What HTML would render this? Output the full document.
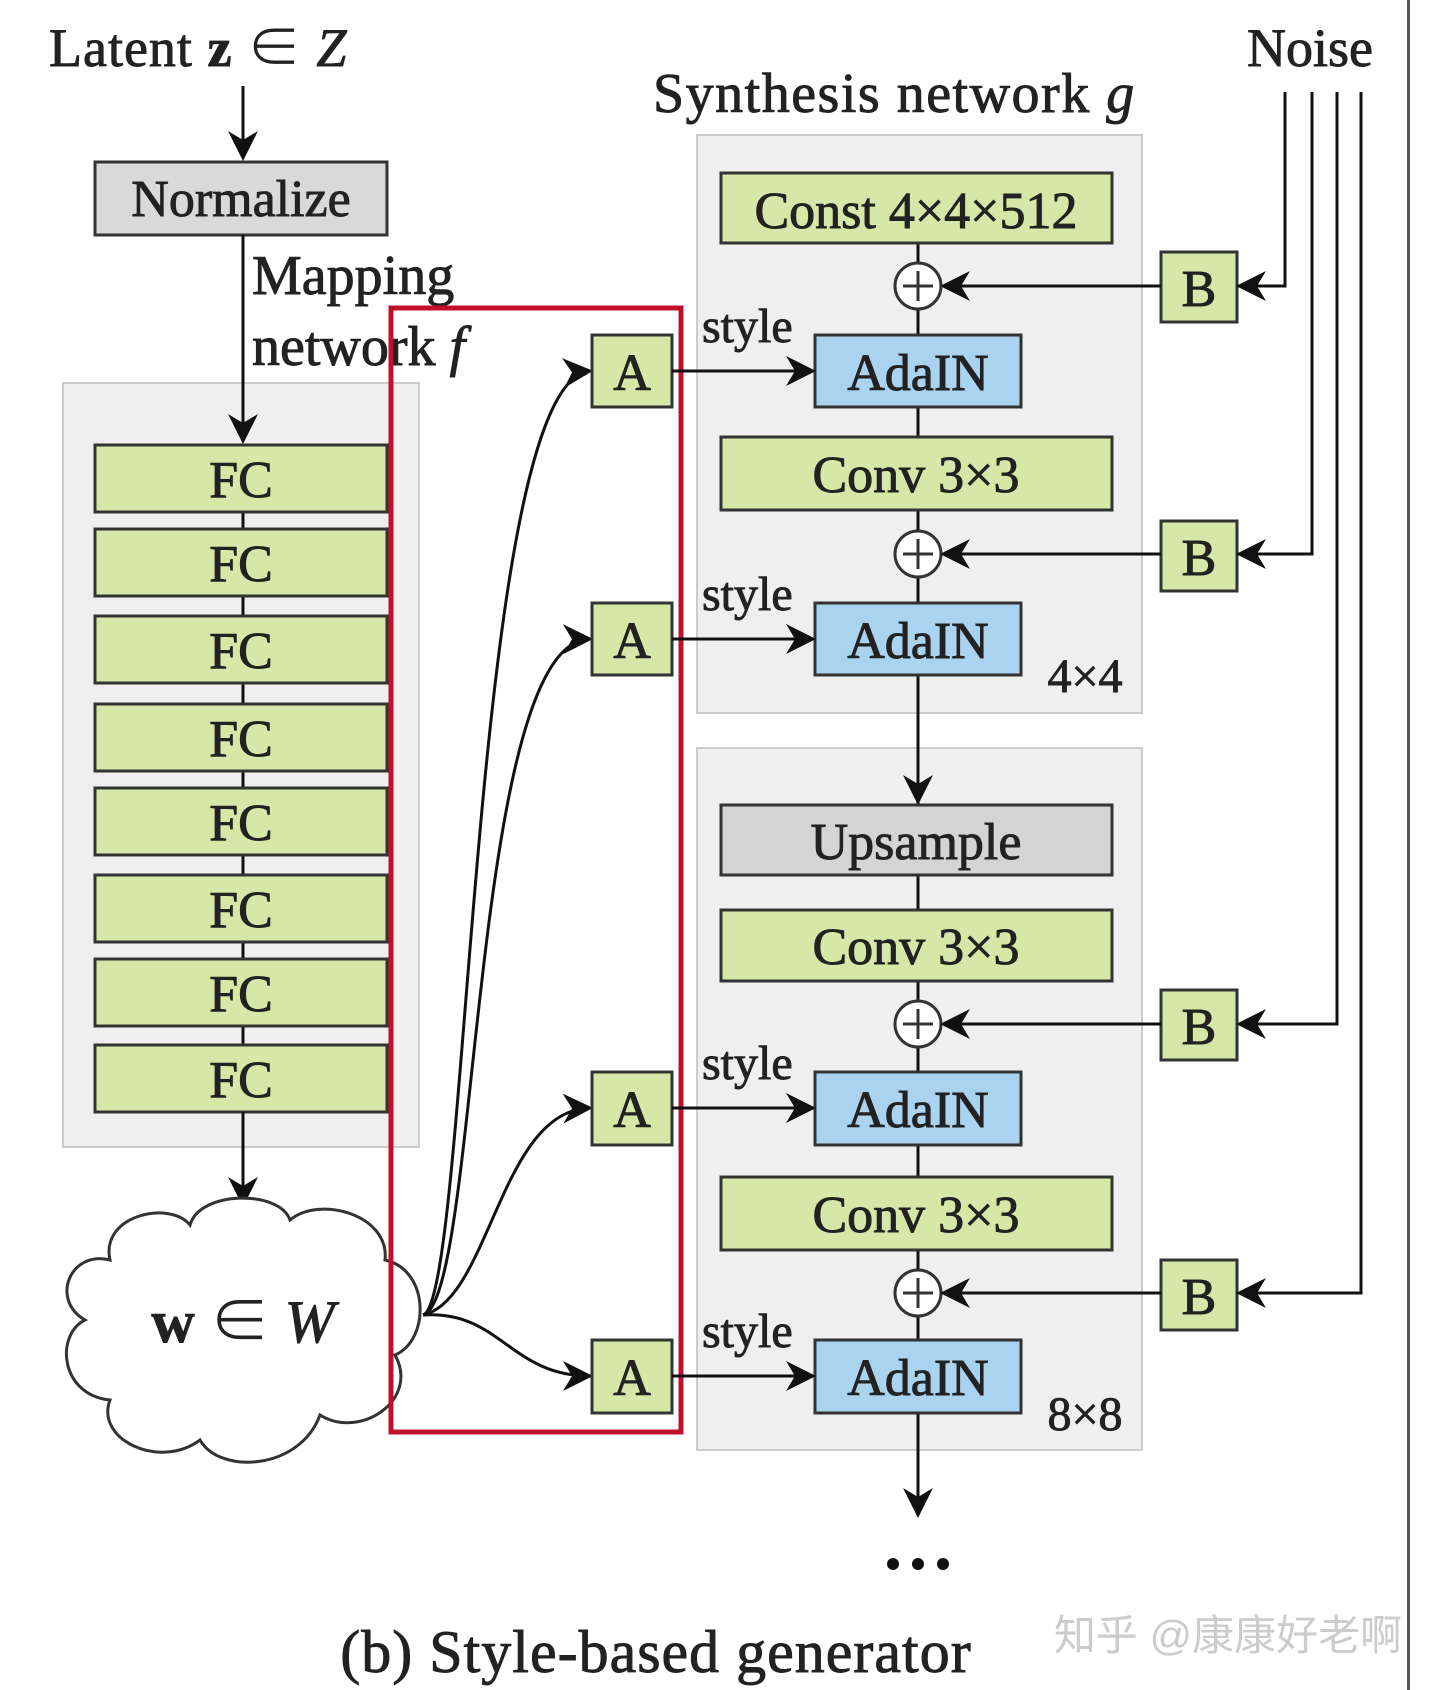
<!DOCTYPE html>
<html><head><meta charset="utf-8"><style>
html,body{margin:0;padding:0;background:#fff;}
svg{display:block;}
text{font-family:"Liberation Serif","Noto Serif CJK SC",serif;fill:#222;stroke:#222;stroke-width:0.9;}
</style></head><body>
<svg width="1440" height="1690" viewBox="0 0 1440 1690" xmlns="http://www.w3.org/2000/svg">
<defs>
<marker id="ab" viewBox="0 0 10 10" refX="9" refY="5" markerWidth="30" markerHeight="30" orient="auto" markerUnits="userSpaceOnUse">
<path d="M0,0 L10,5 L0,10 L3,5 z" fill="#111"/></marker>
</defs>
<rect x="1407" y="0" width="3" height="1690" fill="#555"/>
<!-- top labels -->
<text x="49" y="66" font-size="54" letter-spacing="1">Latent  <tspan font-weight="bold">z</tspan> ∈ <tspan font-style="italic">Z</tspan></text>
<text x="653" y="112" font-size="56" letter-spacing="1.5">Synthesis network <tspan font-style="italic">g</tspan></text>
<text x="1247" y="66" font-size="54">Noise</text>
<!-- mapping -->
<line x1="243" y1="86" x2="243" y2="158" stroke="#111" stroke-width="3" marker-end="url(#ab)"/>
<rect x="95" y="162" width="292" height="73" fill="#d9d9d9" stroke="#333" stroke-width="3"/>
<text x="241" y="216" font-size="52" text-anchor="middle">Normalize</text>
<rect x="63" y="383" width="356" height="764" fill="#efefef" stroke="#ccc" stroke-width="2"/>
<line x1="243" y1="235" x2="243" y2="441" stroke="#111" stroke-width="3" marker-end="url(#ab)"/>
<text x="252" y="294" font-size="56">Mapping</text>
<text x="252" y="365" font-size="56">network <tspan font-style="italic">f</tspan></text>
<line x1="243" y1="445" x2="243" y2="1112" stroke="#111" stroke-width="3"/>
<g fill="#d6e8a8" stroke="#333" stroke-width="3">
<rect x="95" y="445" width="292" height="67"/><rect x="95" y="529" width="292" height="67"/>
<rect x="95" y="616" width="292" height="67"/><rect x="95" y="704" width="292" height="67"/>
<rect x="95" y="788" width="292" height="67"/><rect x="95" y="875" width="292" height="67"/>
<rect x="95" y="959" width="292" height="67"/><rect x="95" y="1045" width="292" height="67"/>
</g>
<g font-size="52" text-anchor="middle">
<text x="241" y="497">FC</text><text x="241" y="581">FC</text><text x="241" y="668">FC</text><text x="241" y="756">FC</text>
<text x="241" y="840">FC</text><text x="241" y="927">FC</text><text x="241" y="1011">FC</text><text x="241" y="1097">FC</text>
</g>
<line x1="243" y1="1112" x2="243" y2="1204" stroke="#111" stroke-width="3" marker-end="url(#ab)"/>
<!-- cloud -->
<path d="M110,1260 C100,1215 170,1200 190,1225 C200,1190 280,1190 290,1220 C320,1195 390,1215 385,1260 C430,1270 430,1340 395,1355 C420,1400 360,1440 320,1415 C300,1470 220,1475 200,1440 C160,1470 95,1440 110,1400 C60,1395 55,1335 85,1320 C50,1300 70,1250 110,1260 z" fill="#fff" stroke="#333" stroke-width="3"/>
<text x="243" y="1342" font-size="60" text-anchor="middle"><tspan font-weight="bold">w</tspan> ∈ <tspan font-style="italic">W</tspan></text>
<!-- curves -->
<g fill="none" stroke="#111" stroke-width="3">
<path d="M423,1315 C470,1300 470,380 590,371" marker-end="url(#ab)"/>
<path d="M423,1315 C480,1300 470,640 590,639" marker-end="url(#ab)"/>
<path d="M423,1315 C490,1300 500,1110 590,1108" marker-end="url(#ab)"/>
<path d="M423,1315 C500,1310 510,1376 590,1376" marker-end="url(#ab)"/>
</g>
<rect x="391" y="308" width="290" height="1124" fill="none" stroke="#c0102a" stroke-width="5"/>
<!-- synthesis panels -->
<rect x="697" y="135" width="445" height="578" fill="#efefef" stroke="#ccc" stroke-width="2"/>
<rect x="697" y="748" width="445" height="702" fill="#efefef" stroke="#ccc" stroke-width="2"/>
<line x1="918" y1="243" x2="918" y2="1413" stroke="#111" stroke-width="3"/>
<line x1="918" y1="675" x2="918" y2="802" stroke="#111" stroke-width="3" marker-end="url(#ab)"/>
<line x1="918" y1="1413" x2="918" y2="1515" stroke="#111" stroke-width="3" marker-end="url(#ab)"/>
<rect x="721" y="173" width="391" height="70" fill="#d6e8a8" stroke="#333" stroke-width="3"/>
<text x="916" y="228" font-size="52" text-anchor="middle">Const 4×4×512</text>
<rect x="721" y="437" width="391" height="73" fill="#d6e8a8" stroke="#333" stroke-width="3"/>
<text x="916" y="492" font-size="52" text-anchor="middle">Conv 3×3</text>
<rect x="721" y="805" width="391" height="70" fill="#d4d4d4" stroke="#333" stroke-width="3"/>
<text x="916" y="859" font-size="52" text-anchor="middle">Upsample</text>
<rect x="721" y="910" width="391" height="71" fill="#d6e8a8" stroke="#333" stroke-width="3"/>
<text x="916" y="964" font-size="52" text-anchor="middle">Conv 3×3</text>
<rect x="721" y="1177" width="391" height="73" fill="#d6e8a8" stroke="#333" stroke-width="3"/>
<text x="916" y="1232" font-size="52" text-anchor="middle">Conv 3×3</text>
<g fill="#a9d3ef" stroke="#333" stroke-width="3">
<rect x="815" y="335" width="206" height="72"/><rect x="815" y="603" width="206" height="72"/>
<rect x="815" y="1072" width="206" height="73"/><rect x="815" y="1340" width="206" height="73"/>
</g>
<g font-size="52" text-anchor="middle">
<text x="918" y="390">AdaIN</text><text x="918" y="658">AdaIN</text><text x="918" y="1127">AdaIN</text><text x="918" y="1395">AdaIN</text>
</g>
<text x="1085" y="692" font-size="48" text-anchor="middle">4×4</text>
<text x="1085" y="1430" font-size="48" text-anchor="middle">8×8</text>
<!-- A boxes -->
<g fill="#d6e8a8" stroke="#333" stroke-width="3">
<rect x="592" y="335" width="80" height="72"/><rect x="592" y="603" width="80" height="72"/>
<rect x="592" y="1072" width="80" height="73"/><rect x="592" y="1340" width="80" height="73"/>
</g>
<g font-size="52" text-anchor="middle">
<text x="632" y="390">A</text><text x="632" y="658">A</text><text x="632" y="1127">A</text><text x="632" y="1395">A</text>
</g>
<g stroke="#111" stroke-width="3">
<line x1="672" y1="371" x2="813" y2="371" marker-end="url(#ab)"/>
<line x1="672" y1="639" x2="813" y2="639" marker-end="url(#ab)"/>
<line x1="672" y1="1108" x2="813" y2="1108" marker-end="url(#ab)"/>
<line x1="672" y1="1376" x2="813" y2="1376" marker-end="url(#ab)"/>
</g>
<g font-size="48">
<text x="702" y="342">style</text><text x="702" y="610">style</text><text x="702" y="1079">style</text><text x="702" y="1347">style</text>
</g>
<!-- plus circles -->
<g fill="#fff" stroke="#333" stroke-width="3">
<circle cx="918" cy="286" r="23"/><circle cx="918" cy="554" r="23"/><circle cx="918" cy="1024" r="23"/><circle cx="918" cy="1293" r="23"/>
</g>
<g stroke="#333" stroke-width="3">
<path d="M903,286h30M918,271v30"/><path d="M903,554h30M918,539v30"/><path d="M903,1024h30M918,1009v30"/><path d="M903,1293h30M918,1278v30"/>
</g>
<!-- B boxes -->
<g fill="#d6e8a8" stroke="#333" stroke-width="3">
<rect x="1161" y="252" width="76" height="70"/><rect x="1161" y="521" width="76" height="70"/>
<rect x="1161" y="990" width="76" height="70"/><rect x="1161" y="1260" width="76" height="70"/>
</g>
<g font-size="52" text-anchor="middle">
<text x="1199" y="306">B</text><text x="1199" y="575">B</text><text x="1199" y="1044">B</text><text x="1199" y="1314">B</text>
</g>
<g stroke="#111" stroke-width="3" fill="none">
<line x1="1161" y1="286" x2="943" y2="286" marker-end="url(#ab)"/>
<line x1="1161" y1="554" x2="943" y2="554" marker-end="url(#ab)"/>
<line x1="1161" y1="1024" x2="943" y2="1024" marker-end="url(#ab)"/>
<line x1="1161" y1="1293" x2="943" y2="1293" marker-end="url(#ab)"/>
<path d="M1285,92 V286 H1239" marker-end="url(#ab)"/>
<path d="M1312,92 V554 H1239" marker-end="url(#ab)"/>
<path d="M1337,92 V1024 H1239" marker-end="url(#ab)"/>
<path d="M1361,92 V1293 H1239" marker-end="url(#ab)"/>
</g>
<g fill="#111"><circle cx="893" cy="1564" r="6"/><circle cx="918" cy="1564" r="6"/><circle cx="943" cy="1564" r="6"/></g>
<text x="656" y="1672" font-size="60" text-anchor="middle" letter-spacing="1">(b) Style-based generator</text>
<text x="1228" y="1650" font-size="42" text-anchor="middle" style="fill:#ccc;stroke:none;font-family:'Liberation Sans','Noto Sans CJK SC',sans-serif">知乎 @康康好老啊</text>
</svg>
</body></html>
